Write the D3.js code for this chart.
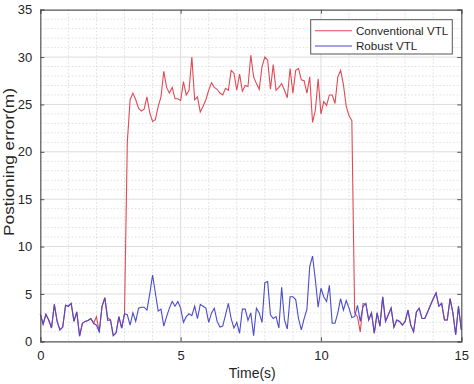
<!DOCTYPE html>
<html><head><meta charset="utf-8">
<script src="https://cdn.jsdelivr.net/npm/d3@7"></script>
<style>
html,body{margin:0;padding:0;background:#fff;}
svg{display:block;font-family:"Liberation Sans",Arial,sans-serif;}
</style></head>
<body>
<svg id="chart" width="474" height="384"></svg>
<script>
// ---- data (sampled every 0.1 s, 0..15 s) ----
const sampleStep = 0.1;
const robustVTL = [
2.9,1.8,2.85,2.25,1.4,3.9,2.1,1.2,1.5,3.8,
3.7,4.0,2.1,3.1,0.55,1.9,2.1,2.2,2.4,1.9,
1.7,1.0,3.7,4.6,2.2,2.25,0.6,0.9,2.6,1.4,
2.9,2.8,1.7,3.0,2.1,3.5,3.6,3.6,3.3,5.0,
7.0,5.1,3.2,3.4,1.6,2.6,3.5,4.2,3.7,4.2,
3.5,2.0,2.6,2.9,2.7,3.7,2.4,3.9,3.7,3.5,
2.0,3.0,3.5,2.1,1.5,1.6,2.8,4.0,2.4,1.4,
2.0,0.85,3.4,3.4,2.2,3.0,0.6,3.5,3.0,2.0,
6.2,6.3,2.8,2.4,2.6,1.4,5.7,2.25,1.3,4.7,
4.7,4.4,2.4,1.2,2.4,3.4,7.9,9.0,6.5,3.6,
5.6,4.7,4.2,5.9,1.9,1.9,3.0,4.5,3.3,4.3,
3.5,2.5,2.6,3.8,2.1,3.7,4.0,2.25,3.0,0.85,
3.0,1.6,4.7,2.1,2.8,3.5,1.5,2.25,2.1,1.7,
2.1,3.3,1.7,1.0,3.1,3.5,2.4,2.4,3.1,3.8,
4.5,5.1,3.7,4.0,2.25,2.25,4.5,3.0,0.7,3.7,
1.2
];
const conventionalVTL = [
2.9,1.8,2.85,2.25,1.4,3.9,2.1,1.2,1.5,3.8,
3.7,4.0,2.1,3.1,0.55,1.9,2.1,2.2,2.4,1.9,
2.6,1.0,3.7,4.6,2.5,2.25,0.6,0.9,2.6,1.4,
2.9,21.0,25.5,26.2,25.5,24.6,24.3,24.5,25.8,24.1,
23.2,23.4,24.8,25.8,28.5,26.8,26.2,26.8,25.6,25.6,
25.4,27.4,26.0,26.5,30.0,25.5,25.8,24.2,24.8,25.5,
26.5,27.3,26.8,26.6,26.2,26.0,26.7,26.5,28.6,28.3,
26.5,28.2,26.4,27.0,26.9,30.2,27.9,27.2,26.6,29.0,
30.0,29.7,26.6,29.2,26.5,26.8,27.2,26.5,25.7,28.8,
26.2,28.6,28.8,27.6,27.5,26.2,27.9,23.1,24.4,27.7,
24.0,25.3,24.9,26.0,26.0,25.1,27.9,28.6,27.1,24.8,
23.8,23.3,3.0,2.6,1.0,4.0,3.9,2.25,3.0,0.85,
3.0,1.6,4.7,2.1,2.8,3.5,1.5,2.25,2.1,1.7,
2.1,3.3,1.7,1.0,3.1,3.5,2.4,2.4,3.1,3.8,
4.5,5.1,3.7,4.0,2.25,2.25,4.5,3.0,0.7,3.7,
1.2
];
const xTicks = [0,5,10,15];
const yTicks = [0,5,10,15,20,25,30,35];
const seriesNames = ["Conventional VTL","Robust VTL"];
const seriesColors = ["#e04a55","#4b4bcc"];
const xLabel = "Time(s)";
const yLabel = "Postioning error(m)";

// ---- layout ----
const svg = d3.select("#chart");
const L = 40.3, R = 461.3, T = 9.7, B = 341.3;
const x = d3.scaleLinear().domain([0,15]).range([L,R]);
const y = d3.scaleLinear().domain([0,35]).range([B,T]);

svg.append("rect").attr("width",474).attr("height",384).attr("fill","#fff");

// minor grid
const g = svg.append("g");
g.selectAll(".mx").data(d3.range(1,15).filter(v=>v%5!==0)).enter().append("line")
  .attr("x1",d=>x(d)).attr("x2",d=>x(d)).attr("y1",T).attr("y2",B)
  .attr("stroke","#d6d6d6").attr("stroke-width",0.8).attr("stroke-dasharray","1.5,2");
g.selectAll(".my").data(d3.range(1,35).filter(v=>v%5!==0)).enter().append("line")
  .attr("y1",d=>y(d)).attr("y2",d=>y(d)).attr("x1",L).attr("x2",R)
  .attr("stroke","#d6d6d6").attr("stroke-width",0.8).attr("stroke-dasharray","1.5,2");
// major grid
g.selectAll(".gx").data(xTicks.slice(1,-1)).enter().append("line")
  .attr("x1",d=>x(d)).attr("x2",d=>x(d)).attr("y1",T).attr("y2",B)
  .attr("stroke","#dcdcdc").attr("stroke-width",1);
g.selectAll(".gy").data(yTicks.slice(1,-1)).enter().append("line")
  .attr("y1",d=>y(d)).attr("y2",d=>y(d)).attr("x1",L).attr("x2",R)
  .attr("stroke","#dcdcdc").attr("stroke-width",1);

// lines
const line = d3.line().x((d,i)=>x(i*sampleStep)).y(d=>y(d));
svg.append("path").datum(conventionalVTL).attr("d",line)
  .attr("fill","none").attr("stroke",seriesColors[0]).attr("stroke-width",1.1);
svg.append("path").datum(robustVTL).attr("d",line)
  .attr("fill","none").attr("stroke",seriesColors[1]).attr("stroke-width",1.1);

// axes (ticks inward, mirrored)
const axCol = "#555";
const tickLen = 4;
const xb = svg.append("g").attr("transform",`translate(0,${B})`)
  .call(d3.axisBottom(x).tickValues(xTicks).tickSize(-tickLen).tickPadding(9).tickFormat(d3.format("d")));
const xt = svg.append("g").attr("transform",`translate(0,${T})`)
  .call(d3.axisTop(x).tickValues(xTicks).tickSize(-tickLen).tickFormat(""));
const yl = svg.append("g").attr("transform",`translate(${L},0)`)
  .call(d3.axisLeft(y).tickValues(yTicks).tickSize(-tickLen).tickPadding(8).tickFormat(d3.format("d")));
const yr = svg.append("g").attr("transform",`translate(${R},0)`)
  .call(d3.axisRight(y).tickValues(yTicks).tickSize(-tickLen).tickFormat(""));
[xb,xt,yl,yr].forEach(a=>{
  a.select(".domain").attr("stroke",axCol).attr("stroke-width",1.2);
  a.selectAll(".tick line").attr("stroke",axCol);
  a.selectAll("text").attr("fill","#262626").attr("font-size","13px")
   .attr("font-family","'Liberation Sans',Arial,sans-serif");
});

// axis labels
svg.append("text").attr("x",(L+R)/2+1.5).attr("y",378)
  .attr("text-anchor","middle").attr("font-size","14px").attr("fill","#262626").text(xLabel);
svg.append("text").attr("transform",`translate(14,162) rotate(-90)`)
  .attr("text-anchor","middle").attr("font-size","14px").attr("fill","#262626")
  .attr("textLength",148).attr("lengthAdjust","spacingAndGlyphs").text(yLabel);

// legend
const lg = svg.append("g");
lg.append("rect").attr("x",310.7).attr("y",19.7).attr("width",141.6).attr("height",34.3)
  .attr("fill","#fff").attr("stroke","#555").attr("stroke-width",1);
seriesNames.forEach((n,i)=>{
  const yy = 30.7 + i*15.3;
  lg.append("line").attr("x1",315).attr("x2",352).attr("y1",yy).attr("y2",yy)
    .attr("stroke",seriesColors[i]).attr("stroke-width",1.1);
  lg.append("text").attr("x",356).attr("y",yy+4).attr("font-size","11.6px")
    .attr("fill","#262626").text(n);
});
</script>
</body></html>
